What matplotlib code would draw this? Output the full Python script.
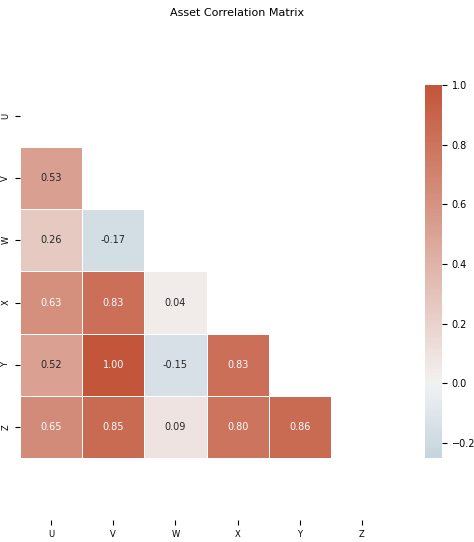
import numpy as np
import matplotlib
matplotlib.use("Agg")
import matplotlib.pyplot as plt
import seaborn as sns

labels = ["U", "V", "W", "X", "Y", "Z"]
rows_V = [0.53]
rows_W = [0.26, -0.17]
rows_X = [0.63, 0.83, 0.04]
rows_Y = [0.52, 1.00, -0.15, 0.83]
rows_Z = [0.65, 0.85, 0.09, 0.80, 0.86]

n = len(labels)
corr = np.eye(n)
for i, r in enumerate([rows_V, rows_W, rows_X, rows_Y, rows_Z], start=1):
    for j, v in enumerate(r):
        corr[i, j] = v
        corr[j, i] = v
mask = np.triu(np.ones_like(corr, dtype=bool))

W, H = 474, 542
fig = plt.figure(figsize=(W / 100, H / 100), dpi=100)
ax = fig.add_axes([20 / W, 1 - 520 / H, 373 / W, 435 / H])
cax = fig.add_axes([425 / W, 1 - 458 / H, 17 / W, 373 / H])
cmap = sns.diverging_palette(230, 20, as_cmap=True)
sns.heatmap(corr, mask=mask, cmap=cmap, center=0, vmin=-0.25, vmax=1.0,
            annot=True, fmt=".2f", linewidths=0.5, ax=ax, cbar_ax=cax,
            xticklabels=labels, yticklabels=labels, annot_kws={"size": 7})
ax.set_aspect("auto")
ax.set_ylim(7.0, 0)
ax.tick_params(labelsize=6)
cax.tick_params(labelsize=7)
fig.text(0.5, 1 - 13 / H, "Asset Correlation Matrix", ha="center", va="center", fontsize=8)
fig.savefig("out.png", dpi=100)
